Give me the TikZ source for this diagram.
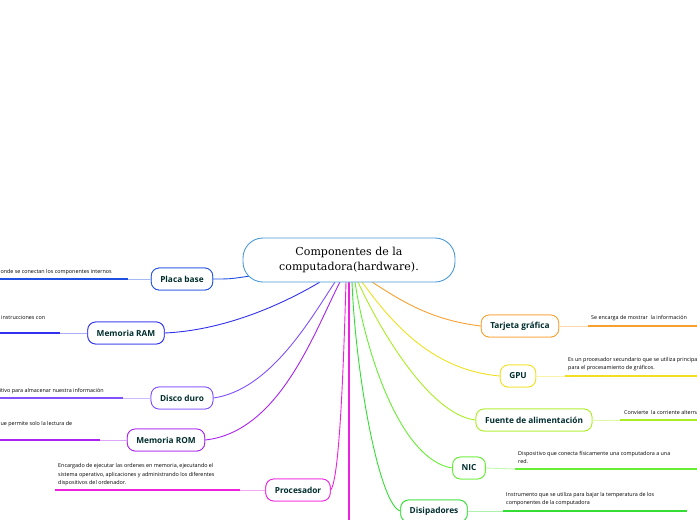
\documentclass[tikz,border=0pt]{standalone}
\usepackage{fontspec}
\setmainfont{Open Sans}
\newfontfamily\serifc{DejaVu Serif}
\begin{document}
\begin{tikzpicture}[x=1pt,y=-1pt,
 sub/.style={draw=#1,line width=0.8pt,rounded corners=8pt,minimum height=22pt,inner xsep=9pt,font=\bfseries\fontsize{8.3}{9}\selectfont,text=black!65!teal,fill=white},
 desc/.style={font=\fontsize{5.4}{8.5}\selectfont,anchor=south west,inner sep=1pt,align=left},
 con/.style={line width=0.9pt,#1},
 ln/.style={line width=1.3pt,#1}]
\useasboundingbox (0,0) rectangle (697,520);
\clip (0,0) rectangle (697,520);
\definecolor{cPB}{HTML}{1F4FE0}\definecolor{cRAM}{HTML}{3030EE}\definecolor{cDD}{HTML}{8050FF}
\definecolor{cROM}{HTML}{AA22EE}\definecolor{cPR}{HTML}{EE22DD}\definecolor{cTG}{HTML}{F7A030}
\definecolor{cGPU}{HTML}{F0E020}\definecolor{cFA}{HTML}{AAEE22}\definecolor{cNIC}{HTML}{66EE33}
\definecolor{cDS}{HTML}{33DD33}\definecolor{cC}{HTML}{4A9AD8}
\coordinate (down) at (349,520);
\draw[con=cPR,line width=1.2pt] (349,282) -- (down);
\node[sub=cPB] (pb) at (182,279) {Placa base};
\node[sub=cRAM] (ram) at (126,333) {Memoria RAM};
\node[sub=cDD] (dd) at (182,398) {Disco duro};
\node[sub=cROM] (rom) at (166,440) {Memoria ROM};
\node[sub=cPR] (pr) at (298,490) {Procesador};
\node[sub=cTG] (tg) at (520,326) {Tarjeta gráfica};
\node[sub=cGPU] (gpu) at (518,376) {GPU};
\node[sub=cFA] (fa) at (534,420) {Fuente de alimentación};
\node[sub=cNIC] (nic) at (469,468) {NIC};
\node[sub=cDS] (ds) at (434,511) {Disipadores};
\draw[con=cPB] (pb.east) .. controls (230,279) .. (250,276);
\draw[con=cRAM] (ram.east) .. controls (230,330) and (290,300) .. (320,282);
\draw[con=cDD] (dd.east) .. controls (270,390) and (310,320) .. (335,282);
\draw[con=cROM] (rom.east) .. controls (280,432) and (315,330) .. (340,282);
\draw[con=cPR] (pr.east) .. controls (340,480) and (344,350) .. (346,282);
\draw[con=cTG] (tg.west) .. controls (430,320) and (400,300) .. (372,282);
\draw[con=cGPU] (gpu.west) .. controls (430,370) and (390,320) .. (362,282);
\draw[con=cFA] (fa.west) .. controls (430,415) and (380,330) .. (358,282);
\draw[con=cNIC] (nic.west) .. controls (400,460) and (365,350) .. (355,282);
\draw[con=cDS] (ds.west) .. controls (380,505) and (356,380) .. (352,282);
\node[sub=cPB] at (pb) {Placa base};
\node[sub=cRAM] at (ram) {Memoria RAM};
\node[sub=cDD] at (dd) {Disco duro};
\node[sub=cROM] at (rom) {Memoria ROM};
\node[sub=cPR] at (pr) {Procesador};
\node[sub=cTG] at (tg) {Tarjeta gráfica};
\node[sub=cGPU] at (gpu) {GPU};
\node[sub=cFA] at (fa) {Fuente de alimentación};
\node[sub=cNIC] at (nic) {NIC};
\node[sub=cDS] at (ds) {Disipadores};
\node[draw=cC,line width=0.9pt,rounded corners=20pt,minimum width=212pt,minimum height=44pt,fill=white,align=center,font=\serifc\fontsize{11}{14.5}\selectfont] (c) at (349,260) {Componentes de la\\computadora(hardware).};
\coordinate (pbE) at (0,279); \coordinate (pbL) at (128,279);
\draw[ln=cPB] (pbE) -- (pbL); \draw[con=cPB!40] (pbL) -- (pb.west);
\node[desc] at (-4,276) {donde se conectan los componentes internos};
\coordinate (ramE) at (0,333); \coordinate (ramL) at (60,333);
\draw[ln=cRAM] (ramE) -- (ramL); \draw[con=cRAM!40] (ramL) -- (ram.west);
\node[desc] at (-4,321) {s instrucciones con};
\coordinate (ddE) at (0,398); \coordinate (ddL) at (123,398);
\draw[ln=cDD] (ddE) -- (ddL); \draw[con=cDD!40] (ddL) -- (dd.west);
\node[desc] at (-4,395) {sitivo para almacenar nuestra información};
\coordinate (romE) at (0,440); \coordinate (romL) at (100,440);
\draw[ln=cROM] (romE) -- (romL); \draw[con=cROM!40] (romL) -- (rom.west);
\node[desc] at (-4,428) {que permite solo la lectura de};
\coordinate (prE) at (55,490); \coordinate (prL) at (240,490);
\draw[ln=cPR] (prE) -- (prL); \draw[con=cPR!40] (prL) -- (pr.west);
\node[desc] at (57,487) {Encargado de ejecutar las ordenes en memoria, ejecutando el\\sistema operativo, aplicaciones y administrando los diferentes\\dispositivos del ordenador.};
\coordinate (tgE) at (697,326); \coordinate (tgL) at (588,326);
\draw[ln=cTG] (tgL) -- (tgE); \draw[con=cTG!40] (tg.east) -- (tgL);
\node[desc] at (590,322) {Se encarga de mostrar\ \ la información};
\coordinate (gpuE) at (697,376); \coordinate (gpuL) at (565,376);
\draw[ln=cGPU] (gpuL) -- (gpuE); \draw[con=cGPU!40] (gpu.east) -- (gpuL);
\node[desc] at (567,372) {Es un procesador secundario que se utiliza principalmente\\para el procesamiento de gráficos.};
\coordinate (faE) at (697,420); \coordinate (faL) at (620,420);
\draw[ln=cFA] (faL) -- (faE); \draw[con=cFA!40] (fa.east) -- (faL);
\node[desc] at (623,416) {Convierte\ \ la corriente alterna};
\coordinate (nicE) at (697,469); \coordinate (nicL) at (515,469);
\draw[ln=cNIC] (nicL) -- (nicE); \draw[con=cNIC!40] (nic.east) -- (nicL);
\node[desc] at (517,465) {Dispositivo que conecta físicamente una computadora a una\\red.};
\coordinate (dsE) at (687,511); \coordinate (dsL) at (503,511);
\draw[ln=cDS] (dsL) -- (dsE); \draw[con=cDS!40] (ds.east) -- (dsL);
\node[desc] at (505,507) {Instrumento que se utiliza para bajar la temperatura de los\\componentes de la computadora};
\end{tikzpicture}
\end{document}
